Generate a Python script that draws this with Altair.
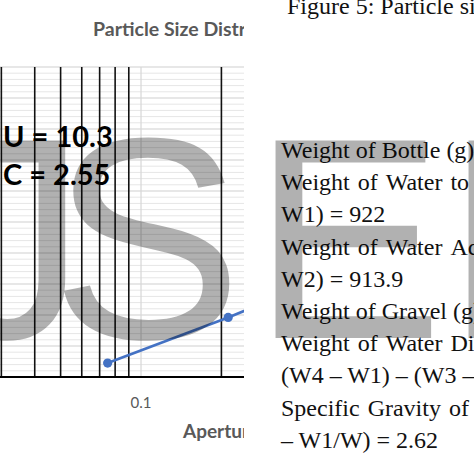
import altair as alt
import pandas as pd

# Sieve results: aperture (mm) vs. percent passing
aperture_mm = [0.075, 0.212, 0.3]
percent_passing = [4.5, 19.2, 24.5]

# Log-axis gridlines (minor ones drawn in black, major 0.1 in light gray)
minor_x = [0.03, 0.04, 0.05, 0.06, 0.07, 0.08, 0.09, 0.2]
major_x = [0.1]
x_tick_labels = ["0.1"]
major_y = [0, 10, 20, 30, 40, 50, 60, 70, 80, 90, 100]
minor_y = [2, 4, 6, 8, 12, 14, 16, 18, 22, 24, 26, 28, 32, 34, 36, 38,
           42, 44, 46, 48, 52, 54, 56, 58, 62, 64, 66, 68, 72, 74, 76, 78,
           82, 84, 86, 88, 92, 94, 96, 98]
baseline_y = [0]

chart_title = "Particle Size Distribution"
x_title = "Aperture Size (mm)"
coef_lines = ["U = 10.3", "C = 2.55"]

caption = "Figure 5: Particle size distribution"
GAP = " \u200a"         # slightly widened word gap of a justified line
body_lines = [
    "Weight of Bottle (g)",
    GAP.join(["Weight", "of", "Water", "to", "Fill", "Bottle"]),
    "W1) = 922",
    GAP.join(["Weight", "of", "Water", "Accommodated"]),
    "W2) = 913.9",
    "Weight of Gravel (g)",
    GAP.join(["Weight", "of", "Water", "Displaced"]),
    "(W4 \u2013 W1) \u2013 (W3 \u2013 W2)",
    GAP.join(["Specific", "Gravity", "of", "Gravel"]),
    "\u2013 W1/W) = 2.62",
]

W, H = 244, 310
x_scale = alt.Scale(type="log", domain=[0.02965, 0.243], nice=False)
y_scale = alt.Scale(domain=[0, 100], nice=False)

one = pd.DataFrame({"k": [0]})

minor_h = alt.Chart(pd.DataFrame({"v": minor_y})).mark_rule(
    color="#e6e6e6", strokeWidth=1
).encode(y=alt.Y("v:Q", scale=y_scale, axis=None))

major_h = alt.Chart(pd.DataFrame({"v": major_y})).mark_rule(
    color="#d0d0d0", strokeWidth=1.2
).encode(y=alt.Y("v:Q", scale=y_scale, axis=None))

major_v = alt.Chart(pd.DataFrame({"v": major_x})).mark_rule(
    color="#d6d6d6", strokeWidth=1.2
).encode(x=alt.X("v:Q", scale=x_scale, axis=None))

minor_v = alt.Chart(pd.DataFrame({"v": minor_x})).mark_rule(
    color="#111111", strokeWidth=1.6
).encode(x=alt.X("v:Q", scale=x_scale, axis=None))

x_axis_line = alt.Chart(pd.DataFrame({"v": baseline_y})).mark_rule(
    color="#000000", strokeWidth=1.8
).encode(y=alt.Y("v:Q", scale=y_scale, axis=None))

x_labels = alt.Chart(pd.DataFrame({"v": major_x, "t": x_tick_labels})).mark_text(
    font="Lato", fontSize=15, color="#595959", baseline="middle", align="center"
).encode(
    x=alt.X("v:Q", scale=x_scale, axis=None),
    y=alt.value(336),
    text="t:N",
)

data = pd.DataFrame({"size": aperture_mm, "passing": percent_passing})
base = alt.Chart(data).encode(
    x=alt.X("size:Q", scale=x_scale, axis=None),
    y=alt.Y("passing:Q", scale=y_scale, axis=None),
)
line = base.mark_line(color="#4472C4", strokeWidth=2.7, clip=True)
points = base.mark_circle(color="#4472C4", size=85, opacity=1, clip=True)

title_txt = alt.Chart(one).mark_text(
    font="Lato", fontWeight="bold", fontSize=19.5, color="#595959",
    align="left", baseline="middle"
).encode(x=alt.value(93), y=alt.value(-37), text=alt.value(chart_title))

xtitle_txt = alt.Chart(one).mark_text(
    font="Lato", fontWeight="bold", fontSize=19, color="#595959",
    align="left", baseline="middle"
).encode(x=alt.value(183), y=alt.value(365), text=alt.value(x_title))

coef_txt = alt.Chart(one).mark_text(
    font="Lato", fontWeight="bold", fontSize=29, color="#000000",
    align="left", baseline="middle", lineHeight=38
).encode(x=alt.value(3), y=alt.value(71), text=alt.value(coef_lines))

# white page area to the right of the chart column
mask = alt.Chart(one).mark_rect(color="white").encode(
    x=alt.value(244), x2=alt.value(480), y=alt.value(-70), y2=alt.value(410)
)

caption_txt = alt.Chart(one).mark_text(
    font="Liberation Serif", fontSize=24, color="#111111",
    align="left", baseline="alphabetic"
).encode(x=alt.value(287), y=alt.value(-53), text=alt.value(caption))

body_txt = alt.Chart(one).mark_text(
    font="Liberation Serif", fontSize=24, color="#111111",
    align="left", baseline="alphabetic", lineHeight=32.2
).encode(x=alt.value(281), y=alt.value(91), text=alt.value(body_lines))


def wm_letter(letter, x0):
    # one letter of the page watermark, translucent over everything
    return alt.Chart(one).mark_text(
        font="Liberation Sans", fontSize=287, color="#000000", opacity=0.3,
        align="left", baseline="alphabetic"
    ).encode(x=alt.value(x0), y=alt.value(271), text=alt.value(letter))


watermark = [wm_letter("J", -57), wm_letter("S", 51),
             wm_letter("E", 252), wm_letter("R", 445)]

chart = alt.layer(
    minor_h, major_h, major_v, minor_v, x_axis_line, line, points, x_labels,
    title_txt, xtitle_txt, coef_txt, mask, caption_txt, body_txt, *watermark
).properties(
    width=W, height=H,
    padding={"left": 0, "top": 67, "right": 230, "bottom": 97},
    autosize=alt.AutoSizeParams(type="none"),
    background="white",
).configure_view(stroke=None)

chart.save("out.html", embed_options={"renderer": "svg", "actions": False})
